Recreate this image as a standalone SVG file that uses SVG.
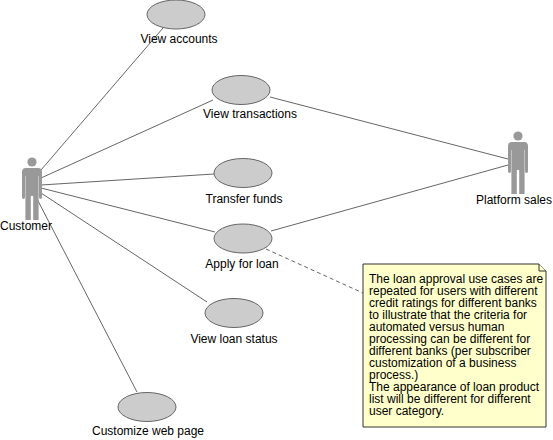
<svg xmlns="http://www.w3.org/2000/svg" width="553" height="440" viewBox="0 0 553 440">
<defs>
<style>
text{font-family:"Liberation Sans",Arial,sans-serif;font-size:12px;fill:#000}
.lbl{text-anchor:middle}
.uc{fill:#cccccc;stroke:#666666;stroke-width:1}
.a{fill:#999999}
.c{stroke:#666666;stroke-width:1;fill:none}
.d{stroke-dasharray:4 3}
.n{fill:#ffffcc;stroke:#333333;stroke-width:1}
</style>
<g id="actor-shape">
<circle class="a" cx="0" cy="-26" r="4.6"/>
<path class="a" d="M-10,-16 Q-10,-20 -6,-20 H6 Q10,-20 10,-16 V9 Q10,11 8.5,11 Q7,11 7,9 V-12 H6.6 V32 H1.2 V8 H-1.2 V32 H-6.6 V-12 H-7 V9 Q-7,11 -8.5,11 Q-10,11 -10,9 Z"/>
</g>
</defs>
<rect width="553" height="440" fill="#ffffff"/>
<g id="connectors">
<line class="c" x1="41" y1="170" x2="163" y2="28"/>
<line class="c" x1="41" y1="178" x2="213" y2="100"/>
<line class="c" x1="41" y1="185" x2="214" y2="174"/>
<line class="c" x1="41" y1="188" x2="215" y2="232"/>
<line class="c" x1="41" y1="193" x2="207" y2="302"/>
<line class="c" x1="36" y1="197" x2="137" y2="392"/>
<line class="c" x1="270" y1="97" x2="508" y2="159"/>
<line class="c" x1="271" y1="231" x2="508" y2="165"/>
<line class="c d" x1="266" y1="249" x2="363" y2="293"/>
</g>
<g id="view-accounts"><ellipse class="uc" cx="176" cy="14.5" rx="29" ry="14.5"/><text class="lbl" x="179" y="43">View accounts</text></g>
<g id="view-transactions"><ellipse class="uc" cx="241" cy="90" rx="29" ry="14.5"/><text class="lbl" x="250" y="118">View transactions</text></g>
<g id="transfer-funds"><ellipse class="uc" cx="243" cy="173" rx="29" ry="14.5"/><text class="lbl" x="244" y="203">Transfer funds</text></g>
<g id="apply-for-loan"><ellipse class="uc" cx="243" cy="238.5" rx="29" ry="14.5"/><text class="lbl" x="242" y="268">Apply for loan</text></g>
<g id="view-loan-status"><ellipse class="uc" cx="234" cy="313" rx="29" ry="14.5"/><text class="lbl" x="234" y="343">View loan status</text></g>
<g id="customize-web-page"><ellipse class="uc" cx="147" cy="407" rx="29" ry="14.5"/><text class="lbl" x="148" y="435">Customize web page</text></g>
<g id="customer"><use href="#actor-shape" x="32" y="188"/><text class="lbl" x="26" y="230">Customer</text></g>
<g id="platform-sales"><use href="#actor-shape" x="518" y="162"/><text class="lbl" x="514" y="204">Platform sales</text></g>
<g id="note">
<path class="n" d="M363,264 H539 L546,271 V427 H363 Z"/>
<path class="n" d="M539,264 V271 H546"/>
<text><tspan x="369" y="283">The loan approval use cases are</tspan><tspan x="369" y="295">repeated for users with different</tspan><tspan x="369" y="307">credit ratings for different banks</tspan><tspan x="369" y="319">to illustrate that the criteria for</tspan><tspan x="369" y="331">automated versus human</tspan><tspan x="369" y="343">processing can be different for</tspan><tspan x="369" y="355">different banks (per subscriber</tspan><tspan x="369" y="367">customization of a business</tspan><tspan x="369" y="379">process.)</tspan><tspan x="369" y="391">The appearance of loan product</tspan><tspan x="369" y="403">list will be different for different</tspan><tspan x="369" y="415">user category.</tspan></text>
</g>
</svg>
